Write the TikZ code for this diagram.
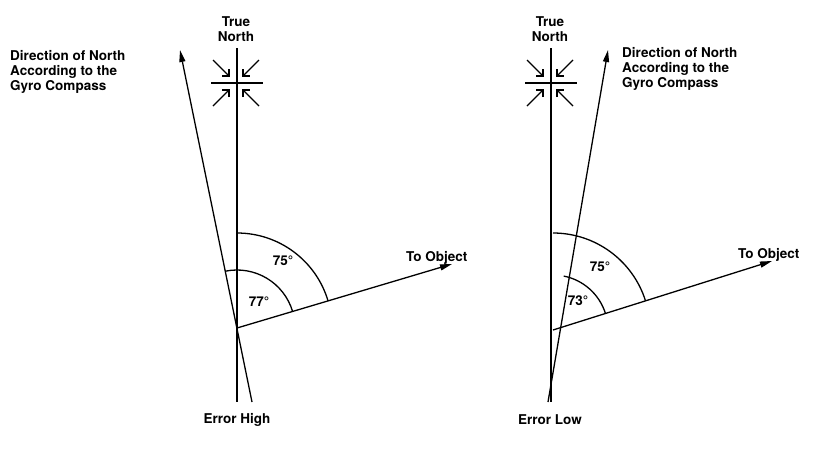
\documentclass[tikz,border=0pt]{standalone}
\usepackage{fontspec}
\setmainfont{TeX Gyre Heros}
\usetikzlibrary{arrows.meta,calc}
\tikzset{ln/.style={line width=1.3pt},
 lab/.style={font=\fontsize{13.5}{15}\selectfont\bfseries,inner sep=0pt,align=left},
 arr/.style={ln,-{Triangle[length=12pt,width=6pt]}}}
\newcommand{\starsym}[1]{%
 \begin{scope}[shift={(#1)},line width=1.1pt]
 \draw (-25,0)--(27,0);
 \foreach \sx/\sy in {1/1,-1/1,1/-1,-1/-1}{
  \draw (\sx*7,\sy*7)--(\sx*23,\sy*23);
  \draw (\sx*7,\sy*14)--(\sx*7,\sy*7)--(\sx*14,\sy*7);}
 \end{scope}}
\begin{document}
\begin{tikzpicture}[x=1pt,y=-1pt]
\useasboundingbox (0,0) rectangle (836,448);
% left
\coordinate (O1) at (237,328);
\coordinate (T1) at (237,48); \coordinate (B1) at (237,402);
\coordinate (G1) at (180,50); \coordinate (GB1) at (252,402);
\coordinate (R1) at (452,264);
\draw[ln] (T1)--(B1);
\draw[arr] (GB1)--(G1);
\draw[arr] (O1)--(R1);
\starsym{236,83}
\draw[ln] ($(O1)+(-90:95)$) arc[start angle=-90,end angle=-16.5,radius=95];
\draw[ln] ($(O1)+(-101.7:58)$) arc[start angle=-101.7,end angle=-16.5,radius=58];
\node[lab,align=center] (tn1) at (236,29) {True\\North};
\node[lab,anchor=west] (d1) at (10,72) {Direction of North\\According to the\\Gyro Compass};
\node[lab] (a75) at (283,261) {75°};
\node[lab] (a77) at (259,302) {77°};
\node[lab,anchor=west] (to1) at (406,258) {To Object};
\node[lab] (eh) at (237,420) {Error High};
% right
\coordinate (O2) at (553,330);
\coordinate (T2) at (551,48); \coordinate (B2) at (551,402);
\coordinate (G2) at (608,50); \coordinate (GB2) at (548,402);
\coordinate (R2) at (772,261);
\draw[ln] (T2)--(B2);
\draw[arr] (GB2)--(G2);
\draw[arr] (O2)--(R2);
\starsym{550,83}
\draw[ln] ($(O2)+(-90:97)$) arc[start angle=-90,end angle=-17.4,radius=97];
\draw[ln] ($(O2)+(-78.8:55)$) arc[start angle=-78.8,end angle=-17.4,radius=55];
\node[lab,align=center] (tn2) at (550,29) {True\\North};
\node[lab,anchor=west] (d2) at (622,69) {Direction of North\\According to the\\Gyro Compass};
\node[lab] (b75) at (600,267) {75°};
\node[lab] (b73) at (578,301) {73°};
\node[lab,anchor=west] (to2) at (738,255) {To Object};
\node[lab] (el) at (550,420) {Error Low};
\end{tikzpicture}
\end{document}
